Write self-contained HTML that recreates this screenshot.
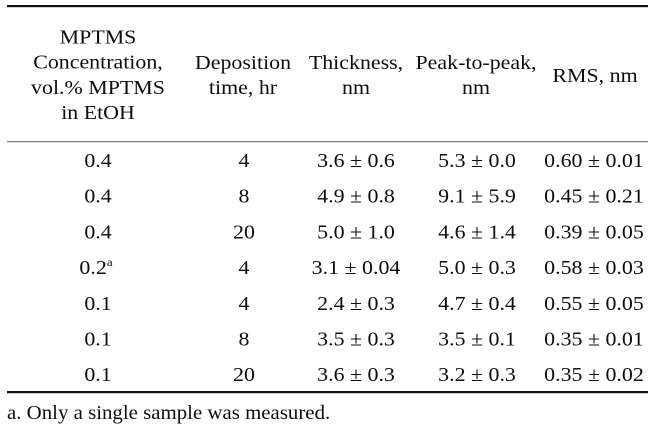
<!DOCTYPE html>
<html>
<head>
<meta charset="utf-8">
<style>
  html, body { margin: 0; padding: 0; background: #fff; }
  body { width: 652px; height: 430px; overflow: hidden; }
  svg { display: block; }
  text { font-family: "Liberation Serif", "Times New Roman", serif; fill: #0d0d0d; }
</style>
</head>
<body>
<svg width="652" height="430" viewBox="0 0 652 430" xmlns="http://www.w3.org/2000/svg">
  <rect x="0" y="0" width="652" height="430" fill="#fff"/>
  <!-- rules -->
  <rect x="7" y="5" width="641" height="2.2" fill="#111"/>
  <rect x="7" y="141" width="641" height="1.2" fill="#777"/>
  <rect x="7" y="391" width="641" height="2.2" fill="#111"/>

  <g font-size="20.3" text-anchor="middle">
    <!-- header col1 -->
    <text transform="translate(98,0) scale(1.08,1)" x="0" y="43.5">MPTMS</text>
    <text transform="translate(98,0) scale(1.08,1)" x="0" y="68.5">Concentration,</text>
    <text transform="translate(98,0) scale(1.08,1)" x="0" y="94">vol.% MPTMS</text>
    <text transform="translate(98,0) scale(1.08,1)" x="0" y="119">in EtOH</text>
    <!-- header col2 -->
    <text transform="translate(243,0) scale(1.08,1)" x="0" y="69">Deposition</text>
    <text transform="translate(243,0) scale(1.08,1)" x="0" y="94">time, hr</text>
    <!-- header col3 -->
    <text transform="translate(356,0) scale(1.08,1)" x="0" y="69">Thickness,</text>
    <text transform="translate(356,0) scale(1.08,1)" x="0" y="94">nm</text>
    <!-- header col4 -->
    <text transform="translate(476,0) scale(1.08,1)" x="0" y="69">Peak-to-peak,</text>
    <text transform="translate(476,0) scale(1.08,1)" x="0" y="94">nm</text>
    <!-- header col5 -->
    <text transform="translate(595,0) scale(1.08,1)" x="0" y="82">RMS, nm</text>

    <!-- row 1 -->
    <text transform="translate(98,0) scale(1.08,1)" x="0" y="167">0.4</text>
    <text transform="translate(244,0) scale(1.08,1)" x="0" y="167">4</text>
    <text transform="translate(356,0) scale(1.08,1)" x="0" y="167">3.6 ± 0.6</text>
    <text transform="translate(477,0) scale(1.08,1)" x="0" y="167">5.3 ± 0.0</text>
    <text transform="translate(594,0) scale(1.08,1)" x="0" y="167">0.60 ± 0.01</text>
    <!-- row 2 -->
    <text transform="translate(98,0) scale(1.08,1)" x="0" y="202.7">0.4</text>
    <text transform="translate(244,0) scale(1.08,1)" x="0" y="202.7">8</text>
    <text transform="translate(356,0) scale(1.08,1)" x="0" y="202.7">4.9 ± 0.8</text>
    <text transform="translate(477,0) scale(1.08,1)" x="0" y="202.7">9.1 ± 5.9</text>
    <text transform="translate(594,0) scale(1.08,1)" x="0" y="202.7">0.45 ± 0.21</text>
    <!-- row 3 -->
    <text transform="translate(98,0) scale(1.08,1)" x="0" y="238.4">0.4</text>
    <text transform="translate(244,0) scale(1.08,1)" x="0" y="238.4">20</text>
    <text transform="translate(356,0) scale(1.08,1)" x="0" y="238.4">5.0 ± 1.0</text>
    <text transform="translate(477,0) scale(1.08,1)" x="0" y="238.4">4.6 ± 1.4</text>
    <text transform="translate(594,0) scale(1.08,1)" x="0" y="238.4">0.39 ± 0.05</text>
    <!-- row 4 -->
    <text transform="translate(96,0) scale(1.08,1)" x="0" y="274">0.2<tspan font-size="12" dy="-8">a</tspan></text>
    <text transform="translate(244,0) scale(1.08,1)" x="0" y="274">4</text>
    <text transform="translate(356,0) scale(1.08,1)" x="0" y="274">3.1 ± 0.04</text>
    <text transform="translate(477,0) scale(1.08,1)" x="0" y="274">5.0 ± 0.3</text>
    <text transform="translate(594,0) scale(1.08,1)" x="0" y="274">0.58 ± 0.03</text>
    <!-- row 5 -->
    <text transform="translate(98,0) scale(1.08,1)" x="0" y="309.8">0.1</text>
    <text transform="translate(244,0) scale(1.08,1)" x="0" y="309.8">4</text>
    <text transform="translate(356,0) scale(1.08,1)" x="0" y="309.8">2.4 ± 0.3</text>
    <text transform="translate(477,0) scale(1.08,1)" x="0" y="309.8">4.7 ± 0.4</text>
    <text transform="translate(594,0) scale(1.08,1)" x="0" y="309.8">0.55 ± 0.05</text>
    <!-- row 6 -->
    <text transform="translate(98,0) scale(1.08,1)" x="0" y="345.5">0.1</text>
    <text transform="translate(244,0) scale(1.08,1)" x="0" y="345.5">8</text>
    <text transform="translate(356,0) scale(1.08,1)" x="0" y="345.5">3.5 ± 0.3</text>
    <text transform="translate(477,0) scale(1.08,1)" x="0" y="345.5">3.5 ± 0.1</text>
    <text transform="translate(594,0) scale(1.08,1)" x="0" y="345.5">0.35 ± 0.01</text>
    <!-- row 7 -->
    <text transform="translate(98,0) scale(1.08,1)" x="0" y="381.2">0.1</text>
    <text transform="translate(244,0) scale(1.08,1)" x="0" y="381.2">20</text>
    <text transform="translate(356,0) scale(1.08,1)" x="0" y="381.2">3.6 ± 0.3</text>
    <text transform="translate(477,0) scale(1.08,1)" x="0" y="381.2">3.2 ± 0.3</text>
    <text transform="translate(594,0) scale(1.08,1)" x="0" y="381.2">0.35 ± 0.02</text>
  </g>

  <!-- footnote -->
  <text transform="translate(7,0) scale(1.07,1)" x="0" y="419" font-size="19.5" text-anchor="start">a. Only a single sample was measured.</text>
</svg>
</body>
</html>
